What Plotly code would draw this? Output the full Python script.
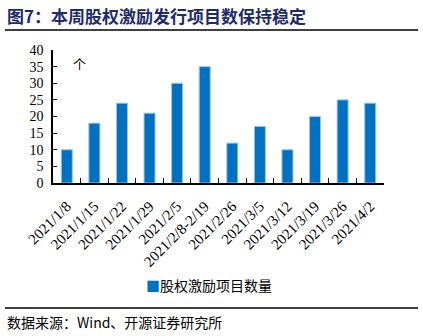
import plotly.graph_objects as go

categories = ["2021/1/8", "2021/1/15", "2021/1/22", "2021/1/29", "2021/2/5", "2021/2/8-2/19",
              "2021/2/26", "2021/3/5", "2021/3/12", "2021/3/19", "2021/3/26", "2021/4/2"]
counts = [10, 18, 24, 21, 30, 35, 12, 17, 10, 20, 25, 24]
series_name = "股权激励项目数量"
title_text = "图7：本周股权激励发行项目数保持稳定"
source_text = "数据来源：Wind、开源证券研究所"
unit_text = "个"

serif = "Liberation Serif, Times New Roman, serif"
cjk = "Noto Sans CJK SC"
bar_color = "#0070C0"

fig = go.Figure()
fig.add_trace(go.Bar(
    x=categories, y=counts, name=series_name, showlegend=False,
    marker=dict(color=bar_color, line=dict(color="#9DC3E6", width=1)),
))

fig.update_layout(
    width=423, height=336,
    margin=dict(l=53, r=39, t=50, b=153),
    paper_bgcolor="white", plot_bgcolor="white",
    bargap=0.6,
    xaxis=dict(
        type="category", showline=True, linecolor="black", linewidth=1.5,
        ticks="inside", tickson="boundaries", ticklen=5, tickcolor="black",
        tickangle=-45, tickfont=dict(family=serif, size=15, color="black"),
        ticklabelstandoff=7, showgrid=False,
    ),
    yaxis=dict(
        range=[0, 40], dtick=5, showline=True, linecolor="black", linewidth=1.5,
        ticks="inside", ticklen=4, tickcolor="black",
        tickfont=dict(family=serif, size=14, color="black"),
        ticklabelstandoff=5, showgrid=False, zeroline=False,
    ),
    annotations=[
        dict(text=title_text, x=-0.145, y=1.263, xref="paper", yref="paper",
             xanchor="left", yanchor="middle", showarrow=False,
             font=dict(family=cjk, size=17, color="#1F2A6B", weight="bold")),
        dict(text=unit_text, x=0.08, y=0.9, xref="paper", yref="paper",
             xanchor="center", yanchor="middle", showarrow=False,
             font=dict(family=cjk, size=13, color="black")),
        dict(text=f"<span style='color:{bar_color}'>■</span>{series_name}",
             x=(144 - 53) / 331, y=(183 - 285) / 133, xref="paper", yref="paper",
             xanchor="left", yanchor="middle", showarrow=False,
             font=dict(family=cjk, size=14, color="black")),
        dict(text=source_text, x=-0.145, y=-1.045, xref="paper", yref="paper",
             xanchor="left", yanchor="middle", showarrow=False,
             font=dict(family=cjk, size=14, color="black")),
    ],
    shapes=[
        dict(type="line", xref="paper", yref="paper", x0=-0.145, x1=1.103, y0=1.15, y1=1.15,
             line=dict(color="black", width=1.5)),
        dict(type="line", xref="paper", yref="paper", x0=-0.145, x1=1.103, y0=-0.94, y1=-0.94,
             line=dict(color="black", width=1.5)),
    ],
)

fig.write_html("out.html")
